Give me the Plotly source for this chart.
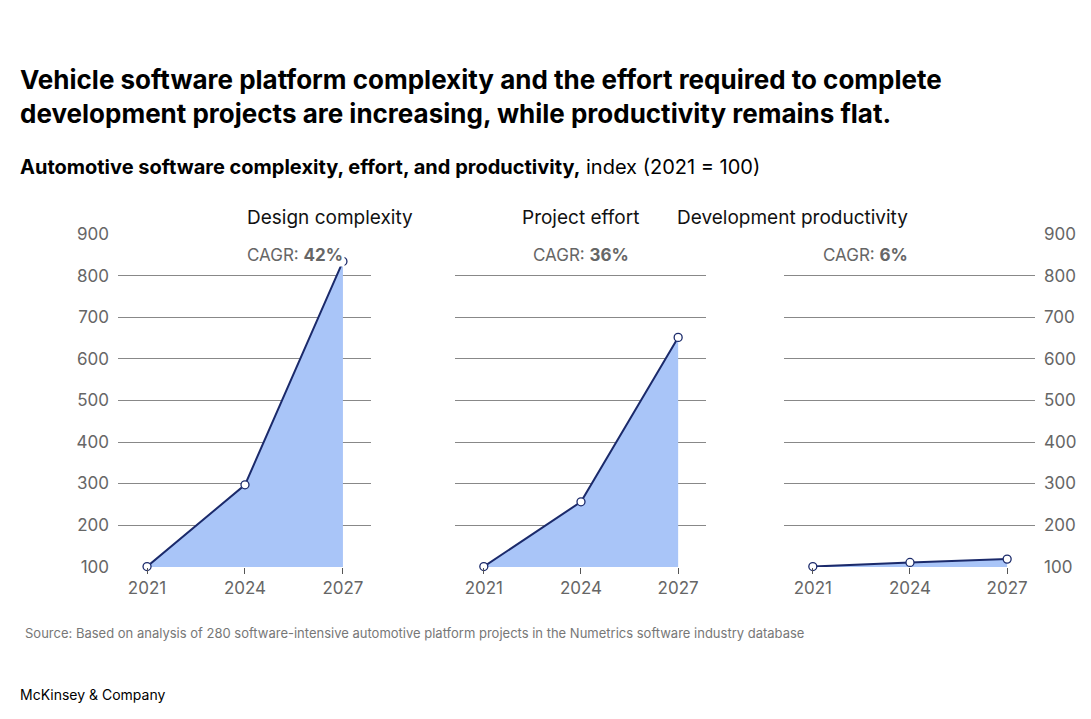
import plotly.graph_objects as go

years = [2021, 2024, 2027]
design = [100, 297, 835]
effort = [100, 256, 652]
productivity = [100, 110, 118]
panel_titles = ["Design complexity", "Project effort", "Development productivity"]
cagr = ["42%", "36%", "6%"]
yticks = [100, 200, 300, 400, 500, 600, 700, 800, 900]

W, H = 1091, 719
FONT = "Inter"
fig = go.Figure()
doms = [(110, 363), (447, 698), (776, 1027)]
ybot, ytop = 559, 226
series = [design, effort, productivity]
for i, (vals, (x0, x1)) in enumerate(zip(series, doms)):
    n = "" if i == 0 else str(i + 1)
    fig.add_trace(go.Scatter(x=years, y=vals, xaxis="x" + n, yaxis="y" + n,
        mode="lines+markers", fill="tozeroy", fillcolor="#a9c5f8",
        line=dict(color="#1b2a6b", width=2),
        marker=dict(size=8, color="white", line=dict(color="#1b2a6b", width=1.3)),
        cliponaxis=False, showlegend=False))
    fig.layout["xaxis" + n] = dict(domain=[x0 / W, x1 / W], range=[2020.11, 2027.86],
        tickvals=years, showgrid=False, zeroline=False, showline=False,
        ticks="outside", ticklen=6, tickcolor="#555", automargin=False,
        tickfont=dict(size=17, color="#666", family=FONT), anchor="y" + n, fixedrange=True)
    yax = dict(domain=[(H - ybot) / H, (H - ytop) / H], range=[99, 901],
        tickvals=yticks, showgrid=True, gridcolor="#888", gridwidth=1, automargin=False,
        zeroline=False, showline=False, anchor="x" + n,
        tickfont=dict(size=17, color="#666", family=FONT), ticklabelstandoff=8)
    if i == 0:
        yax["side"] = "left"
    elif i == 1:
        yax["showticklabels"] = False
    else:
        yax["side"] = "right"
    fig.layout["yaxis" + n] = yax

P = dict(xref="paper", yref="paper", showarrow=False)
ann = []
for i, (x0, x1) in enumerate(doms):
    cx = (x0 + x1) / 2 / W
    ann.append(dict(x=cx, y=(H - 196) / H, text=panel_titles[i],
                    font=dict(size=19, color="#111", family=FONT), **P))
    ann.append(dict(x=cx, y=(H - 247) / H, text=f"CAGR: <b>{cagr[i]}</b>",
                    font=dict(size=17, color="#666", family=FONT), bgcolor="white", **P))
ann += [
    dict(x=10 / W, y=(H - 54) / H, xanchor="left", align="left",
         text="<b>Vehicle software platform complexity and the effort required to complete<br>development projects are increasing, while productivity remains flat.</b>",
         font=dict(size=26, color="#000", family=FONT), **P),
    dict(x=10 / W, y=(H - 145) / H, xanchor="left",
         text="<b>Automotive software complexity, effort, and productivity,</b> index (2021 = 100)",
         font=dict(size=20, color="#000", family=FONT), **P),
    dict(x=15 / W, y=(H - 635) / H, xanchor="left",
         text="Source: Based on analysis of 280 software-intensive automotive platform projects in the Numetrics software industry database",
         font=dict(size=13, color="#777", family=FONT), **P),
    dict(x=10 / W, y=(H - 697) / H, xanchor="left", text="McKinsey & Company",
         font=dict(size=14, color="#000", family=FONT), **P),
]
fig.update_layout(width=W, height=H, margin=dict(l=0, r=0, t=0, b=0, autoexpand=False),
                  plot_bgcolor="white", paper_bgcolor="white", annotations=ann)
fig.write_html("out.html")
